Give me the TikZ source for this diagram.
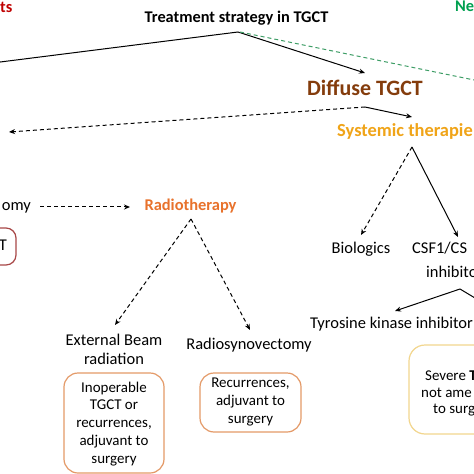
\documentclass[tikz,border=0pt]{standalone}
\usepackage{fontspec}
\setmainfont{Carlito}
\usetikzlibrary{arrows.meta}
\definecolor{cRed}{HTML}{C00000}
\definecolor{cGreen}{HTML}{00A050}
\definecolor{cGreenLine}{HTML}{3E9E66}
\definecolor{cBrown}{HTML}{843C0C}
\definecolor{cGold}{HTML}{F0A418}
\definecolor{cOrange}{HTML}{E8722C}
\definecolor{cBoxRed}{HTML}{A84848}
\definecolor{cBoxOrange}{HTML}{E49A68}
\definecolor{cBoxGold}{HTML}{F2D68E}
\tikzset{
  txt/.style={inner sep=0pt, font=\fontsize{16.5}{19}\selectfont},
  boxtxt/.style={inner sep=0pt, align=center, font=\fontsize{15}{18}\selectfont},
  hd/.style={inner sep=0pt, font=\bfseries\fontsize{16.4}{19}\selectfont},
  solidarrow/.style={draw=black, line width=1bp, -{Stealth[length=6bp,width=5bp]}},
  dasharrow/.style={draw=black, line width=1bp, dash pattern=on 4bp off 3bp, -{Stealth[length=6bp,width=5bp]}},
  plainline/.style={draw=black, line width=1bp},
  rbox/.style={rounded corners=14bp, line width=1.2bp}
}
\begin{document}
\begin{tikzpicture}[x=1bp,y=-1bp]
\useasboundingbox (0,0) rectangle (474,474);
\clip (0,0) rectangle (474,474);
\fill[white] (0,0) rectangle (474,474);

% headings
\node[hd, text=cRed, anchor=base west] (ts) at (0,13) {ts};
\node[hd, anchor=base] (title) at (236.5,23) {Treatment strategy in TGCT};
\node[hd, text=cGreen, anchor=base west] (ne) at (455,12) {Ne};
\node[inner sep=0pt, font=\bfseries\fontsize{22}{24}\selectfont, text=cBrown, anchor=base] (diffuse) at (365,96) {Diffuse TGCT};
\node[inner sep=0pt, font=\bfseries\fontsize{18.5}{21}\selectfont, text=cGold, anchor=base west] (sys) at (337,137) {Systemic therapie};
\node[inner sep=0pt, font=\bfseries\fontsize{16.5}{19}\selectfont, text=cOrange, anchor=base] (radio) at (190.5,211) {Radiotherapy};
\node[txt, anchor=base east] (omy) at (31,211) {omy};

% left red box
\draw[rbox, draw=cBoxRed, rounded corners=10bp] (-12,228) rectangle (16,265);
\node[txt, anchor=base east] (tl) at (7,250) {T};

% radiotherapy children
\node[txt, align=center, anchor=base] (ebr) at (114,364.5) {External Beam\\radiation};
\node[txt, anchor=base] (rsv) at (249,349) {Radiosynovectomy};
\draw[rbox, draw=cBoxOrange] (64,373) rectangle (164,473);
\node[boxtxt] (b1) at (114,424) {Inoperable\\TGCT or\\recurrences,\\adjuvant to\\surgery};
\draw[rbox, draw=cBoxOrange] (200,373) rectangle (301,432);
\node[boxtxt] (b2) at (250.5,402) {Recurrences,\\adjuvant to\\surgery};

% systemic children
\node[txt, anchor=base] (bio) at (361,253.5) {Biologics};
\node[txt, anchor=base west] (csf) at (412,253.5) {CSF1/CS};
\node[txt, anchor=base west] (inh) at (426,277.5) {inhibito};
\node[txt, anchor=base west] (tki) at (310,328.5) {Tyrosine kinase inhibitor};
\draw[rbox, draw=cBoxGold, rounded corners=16bp] (409,345) rectangle (500,434);
\node[boxtxt, anchor=base west] (sev1) at (425,380) {Severe \textbf{T}};
\node[boxtxt, anchor=base west] (sev2) at (421,397) {not ame};
\node[boxtxt, anchor=base west] (sev3) at (433,413) {to surg};

% connector points
\coordinate (lstart) at (-10,63.3);
\coordinate (top) at (238,32);
\coordinate (gtop) at (240,32);
\coordinate (gend) at (480,81.2);
\coordinate (difftip) at (365,73);
\coordinate (dpeak) at (365,107);
\coordinate (lefttip) at (9,132);
\coordinate (systip) at (412,117);
\coordinate (omyend) at (40,207);
\coordinate (radiotip) at (130,207);
\coordinate (rpeak) at (191,219);
\coordinate (ebrtip) at (115,325);
\coordinate (rsvtip) at (250,330);
\coordinate (speak) at (412,147);
\coordinate (biotip) at (361,235);
\coordinate (csftip) at (458,237);
\coordinate (cpeak) at (460,289);
\coordinate (tkitip) at (395,311);
\coordinate (cend) at (480,301);

\draw[plainline] (lstart) -- (top);
\draw[solidarrow] (top) -- (difftip);
\draw[draw=cGreenLine, line width=1bp, dash pattern=on 4bp off 3bp] (gtop) -- (gend);
\draw[dasharrow] (dpeak) -- (lefttip);
\draw[solidarrow] (dpeak) -- (systip);
\draw[dasharrow] (omyend) -- (radiotip);
\draw[dasharrow] (rpeak) -- (ebrtip);
\draw[dasharrow] (rpeak) -- (rsvtip);
\draw[dasharrow] (speak) -- (biotip);
\draw[solidarrow] (speak) -- (csftip);
\draw[solidarrow] (cpeak) -- (tkitip);
\draw[plainline] (cpeak) -- (cend);
\end{tikzpicture}
\end{document}
